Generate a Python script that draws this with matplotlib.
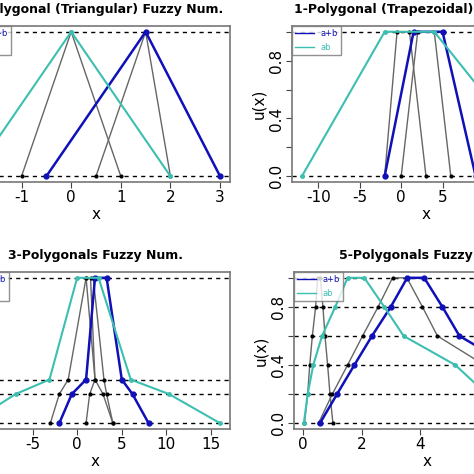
import matplotlib
matplotlib.use("Agg")
import matplotlib.pyplot as plt

# panel 1: triangular
tri_u = [0, 1, 0]
tri_a = [-1, 0, 1]
tri_b = [0.5, 1.5, 2]
tri_sum = [-0.5, 1.5, 3]
tri_prod = [-2, 0, 2]

# panel 2: trapezoidal
trap_u = [0, 1, 1, 0]
trap_a = [-2, -0.5, 1, 3]
trap_b = [0, 2, 4, 6]
trap_sum = [-2, 1.5, 5, 9]
trap_prod = [-12, -2, 4, 18]

# panel 3: 3 polygonals
p3_u = [0, 0.2, 0.3, 1, 1, 0.3, 0.2, 0]
p3_a = [-3, -2, -1, 1, 1.5, 2, 2.9, 4]
p3_b = [1, 1.4, 2, 1, 1.8, 3, 3.3, 4]
p3_sum = [-2, -0.6, 1, 2, 3.3, 5, 6.2, 8]
p3_prod = [-12, -6.9, -3.1, 0, 2.4, 6.0, 10.3, 16]

# panel 4: 5 polygonals
p5_u = [0, 0.2, 0.4, 0.6, 0.8, 1, 1, 0.8, 0.6, 0.4, 0.2, 0]
p5_a = [0.05, 0.16, 0.23, 0.32, 0.43, 0.50, 0.59, 0.68, 0.75, 0.84, 0.92, 1.02]
p5_b = [0.53, 1.0, 1.52, 2.03, 2.56, 3.05, 3.54, 4.07, 4.58, 6.18, 6.8, 7.4]
p5_sum = [0.58, 1.16, 1.75, 2.35, 2.99, 3.55, 4.13, 4.75, 5.33, 7.02, 7.72, 8.42]
p5_prod = [0.03, 0.16, 0.35, 0.65, 1.1, 1.52, 2.09, 2.77, 3.43, 5.19, 6.26, 7.55]

titles = ["1-Polygonal (Triangular) Fuzzy Num.", "1-Polygonal (Trapezoidal) Fuzzy Num.",
          "3-Polygonals Fuzzy Num.", "5-Polygonals Fuzzy Num."]
panels = [
    (tri_u, tri_a, tri_b, tri_sum, tri_prod, [-1, 0, 1, 2, 3]),
    (trap_u, trap_a, trap_b, trap_sum, trap_prod, [-10, -5, 0, 5]),
    (p3_u, p3_a, p3_b, p3_sum, p3_prod, [-10, -5, 0, 5, 10, 15]),
    (p5_u, p5_a, p5_b, p5_sum, p5_prod, [0, 2, 4, 6, 8]),
]

BLUE = "#1010b8"
TEAL = "#3cbfb0"
GRAY = "#666666"
W = 474.0
# axes boxes in pixels: left, top, right, bottom
boxes = [(-38, 26, 230, 182), (292, 26, 560, 182),
         (-40, 272, 230, 429), (294, 272, 560, 429)]

fig = plt.figure(figsize=(4.74, 4.74), dpi=100)

for i, (u, a, b, s, p, xt) in enumerate(panels):
    l, t, r, bt = boxes[i]
    ax = fig.add_axes([l / W, 1 - bt / W, (r - l) / W, (bt - t) / W])
    for lev in sorted(set(u)):
        ax.axhline(lev, color="black", ls=(0, (3, 3)), lw=1, zorder=1)
    ax.plot(a, u, color=GRAY, lw=1, marker="o", ms=2, mfc="black", mec="black", zorder=2)
    ax.plot(b, u, color=GRAY, lw=1, marker="o", ms=2, mfc="black", mec="black", zorder=2)
    ax.plot(s, u, color=BLUE, lw=1.8, marker="o", ms=3.5, zorder=3, label="a+b")
    ax.plot(p, u, color=TEAL, lw=1.5, marker="o", ms=2.5, zorder=3, label="ab")
    ax.margins(x=0.04, y=0.04)
    ax.set_xticks(xt)
    ax.set_xticklabels([str(v) for v in xt])
    ax.set_yticks([0, 0.2, 0.4, 0.6, 0.8, 1.0])
    ax.set_yticklabels(["0.0", "", "0.4", "", "0.8", ""], rotation=90, va="center")
    ax.tick_params(labelsize=11, length=4, color="#444444", pad=2)
    for sp in ax.spines.values():
        sp.set_color("#777777")
        sp.set_linewidth(1.2)
    ax.set_xlabel("x", fontsize=11, labelpad=1)
    ax.set_ylabel("u(x)", fontsize=11, labelpad=2)
    ax.set_title(titles[i], fontsize=9, fontweight="bold", pad=9)
    leg = ax.legend(loc="upper left", fontsize=6, frameon=True, fancybox=False,
                    handlelength=2.2, borderaxespad=0, edgecolor="#777777",
                    labelcolor="linecolor")
    for h in leg.legend_handles:
        h.set_marker("")
        h.set_linewidth(1)

fig.savefig("out.png", dpi=100)
